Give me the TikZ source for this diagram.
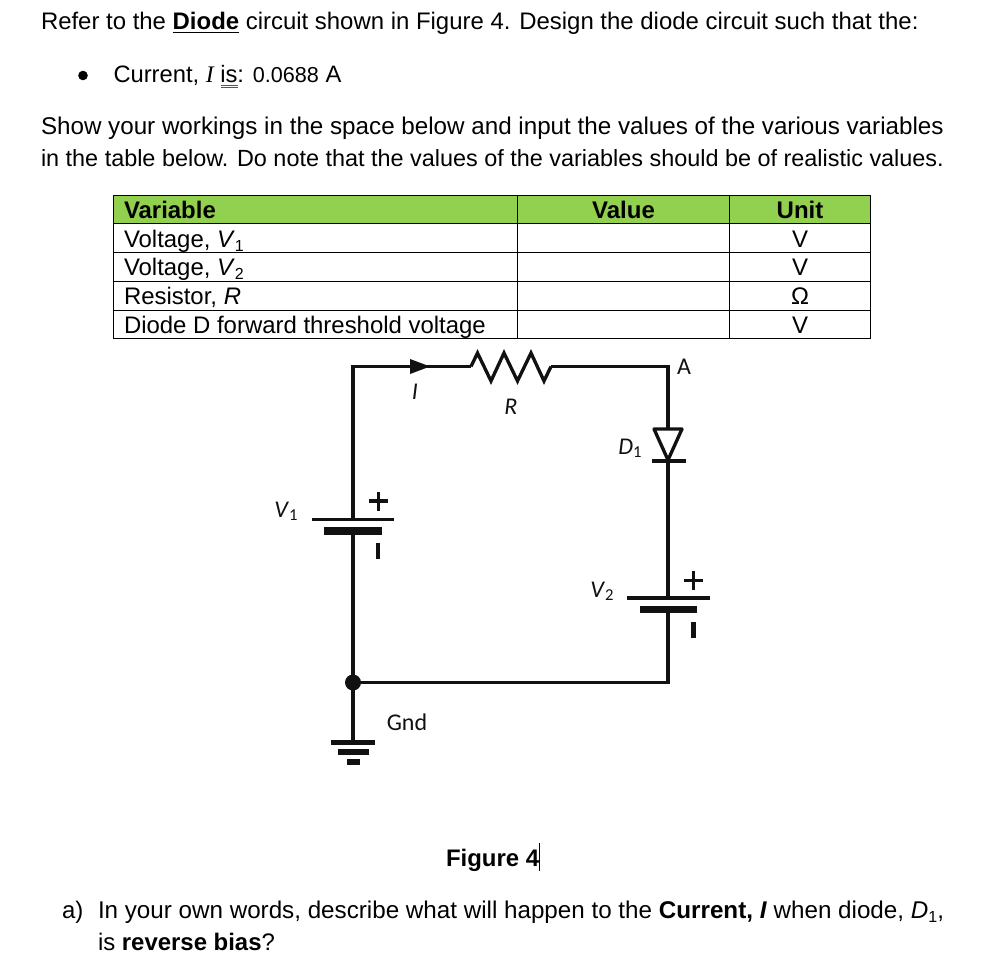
\documentclass[tikz,border=0pt]{standalone}
\usepackage{fontspec}
\setmainfont{Liberation Sans}
\newfontfamily\calib{Carlito}
\newfontfamily\tms{Liberation Serif}
\usetikzlibrary{arrows.meta}
\definecolor{hdrgreen}{HTML}{92D050}
\definecolor{wire}{HTML}{111111}
\newcommand{\bodysize}{\fontsize{17.95}{20}\selectfont}
\newcommand{\tabsize}{\fontsize{18}{20}\selectfont}
\newcommand{\lowsub}[1]{\raisebox{-3pt}{\fontsize{12}{14}\selectfont #1}}
\newcommand{\calsub}[1]{\raisebox{-2.5pt}{\fontsize{12.5}{14}\selectfont #1}}
\tikzset{
  txt/.style={anchor=base west,inner sep=0pt,outer sep=0pt,font=\bodysize,text=black},
  ctxt/.style={anchor=base,inner sep=0pt,outer sep=0pt,font=\tabsize,text=black},
  lbl/.style={anchor=base,inner sep=0pt,outer sep=0pt,font=\fontsize{18}{20}\selectfont\calib,text=wire},
  ilbl/.style={lbl,font=\fontsize{18}{20}\selectfont\calib\itshape},
  rule/.style={draw=black,line width=0.75pt},
  wirel/.style={draw=wire,line width=2.5pt,line join=miter},
  thinplate/.style={draw=wire,line width=2.5pt},
  thickplate/.style={draw=wire,line width=5.5pt},
  pm/.style={draw=wire,line width=2.8pt}
}
\begin{document}
\begin{tikzpicture}[x=0.75pt,y=-0.75pt]
\useasboundingbox (0,0) rectangle (987,973);
\fill[white] (0,0) rectangle (987,973);
% paragraph text
\node[txt] (t1) at (41,30) {Refer to the \underline{\textbf{Diode}} circuit shown in Figure 4. Design the diode circuit such that the:};
\fill (83,75.5) circle (3.6pt);
\node[txt,font=\fontsize{17.8}{20}\selectfont] (t2) at (113.5,82.5) {Current, {\tms\itshape I} is: {\fontsize{16.2}{18}\selectfont 0.0688} A};
\draw[draw=blue!50!black!70,line width=0.5pt] (221,85.5) -- (238,85.5) (221,87.5) -- (238,87.5);
\node[txt,font=\fontsize{18.15}{20}\selectfont] (t3) at (41,134.5) {Show your workings in the space below and input the values of the various variables};
\node[txt,font=\fontsize{17.56}{20}\selectfont] (t4) at (41,166.5) {in the table below. Do note that the values of the variables should be of realistic values.};
% table
\fill[hdrgreen] (113.5,195.5) rectangle (870.5,224);
\draw[rule] (113.5,195.5) rectangle (870.5,338.5);
\draw[rule] (113.5,224) -- (870.5,224);
\draw[rule] (113.5,252.5) -- (870.5,252.5);
\draw[rule] (113.5,281.5) -- (870.5,281.5);
\draw[rule] (113.5,310) -- (870.5,310);
\draw[rule] (517.5,195.5) -- (517.5,338.5);
\draw[rule] (729.5,195.5) -- (729.5,338.5);
\node[txt] (h1) at (124,219) {\textbf{Variable}};
\node[ctxt] (h2) at (623.5,219) {\textbf{Value}};
\node[ctxt] (h3) at (800,219) {\textbf{Unit}};
\node[txt] (r1) at (124,247.5) {Voltage, \textit{V}\lowsub{1}};
\node[txt] (r2) at (124,276) {Voltage, \textit{V}\lowsub{2}};
\node[txt] (r3) at (124,304.5) {Resistor, \textit{R}};
\node[txt] (r4) at (124,333) {Diode D forward threshold voltage};
\node[ctxt] (u1) at (800,247.5) {V};
\node[ctxt] (u2) at (800,276) {V};
\node[ctxt] (u3) at (800,304.5) {\symbol{"03A9}};
\node[ctxt] (u4) at (800,333) {V};
% circuit coordinates
\coordinate (tl) at (353,366.5);
\coordinate (rl) at (471,366.5);
\coordinate (rr) at (551,366.5);
\coordinate (tr) at (668,366.5);
\coordinate (da) at (668,429);
\coordinate (dk) at (668,461);
\coordinate (b2p) at (668,598);
\coordinate (b2n) at (668,610);
\coordinate (br) at (668,682.5);
\coordinate (jn) at (353,682.5);
\coordinate (b1p) at (353,519.5);
\coordinate (b1n) at (353,531);
\coordinate (gt) at (353,742.5);
% wires
\draw[wirel] (b1p) -- (tl) -- (rl);
\draw[wirel] (rl) -- (477.5,353) -- (491,381) -- (504,353) -- (517.5,381) -- (531,353) -- (544,381) -- (rr);
\draw[wirel] (rr) -- (tr) -- (da);
\draw[wirel] (dk) -- (b2p);
\draw[wirel] (b2n) -- (br) -- (jn);
\draw[wirel] (b1n) -- (jn) -- (gt);
% current arrow
\fill[wire] (410,359) -- (430,366.5) -- (410,374) -- cycle;
% diode
\draw[thinplate,line join=round] (654,429) -- (682,429) -- (668,460) -- cycle;
\draw[thinplate] (652,461) -- (686,461);
% batteries
\draw[thinplate] (312,519.5) -- (394,519.5);
\draw[thickplate] (324,531) -- (382,531);
\draw[thinplate] (627,598) -- (710,598);
\draw[thickplate] (640,609.5) -- (697,609.5);
% plus/minus marks
\draw[pm] (369,501) -- (388,501) (378.5,492) -- (378.5,511);
\draw[pm,line width=3.3pt] (378,543) -- (378,559);
\draw[pm] (684,580.5) -- (703,580.5) (693.5,571) -- (693.5,590);
\draw[pm,line width=3.3pt] (693.5,622) -- (693.5,638);
% junction and ground
\fill[wire] (jn) circle (6pt);
\draw[draw=wire,line width=4pt] (331,742.5) -- (375,742.5);
\draw[draw=wire,line width=4pt] (338,752) -- (369,752);
\draw[draw=wire,line width=4pt] (347,762) -- (360,762);
% labels
\node[ilbl] (li) at (415,399.5) {I};
\node[ilbl] (lr) at (511,414.5) {R};
\node[lbl] (la) at (684,374) {A};
\node[lbl] (ld) at (630,454.5) {\textit{D}\calsub{1}};
\node[lbl] (lv1) at (286,517.5) {\textit{V}\calsub{1}};
\node[lbl] (lv2) at (602,597.5) {\textit{V}\calsub{2}};
\node[lbl] (lg) at (407,730.5) {Gnd};
% bottom text
\node[txt] (fig) at (446,866) {\textbf{Figure 4}};
\draw[draw=black,line width=0.7pt] (539.5,843) -- (539.5,871);
\node[txt] (qa) at (62,918) {a)};
\node[txt,font=\fontsize{18.15}{20}\selectfont] (q1) at (98,918) {In your own words, describe what will happen to the \textbf{Current, \textit{I}} when diode, \textit{D}\lowsub{1},};
\node[txt] (q2) at (98,950) {is \textbf{reverse bias}?};
\end{tikzpicture}
\end{document}
